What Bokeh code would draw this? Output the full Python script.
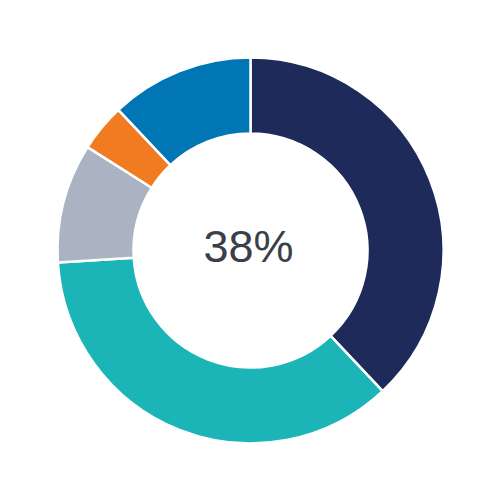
import numpy as np
from bokeh.plotting import figure
from bokeh.models import ColumnDataSource
from bokeh.core.properties import value
from bokeh.embed import file_html
from bokeh.resources import INLINE

categories = ["A", "B", "C", "D", "E"]
shares = [38, 36, 10, 4, 12]
colors = ["#1e2a5a", "#1bb5b7", "#a9b3c1", "#f07b21", "#0176b4"]
center_label = "38%"

fracs = np.array(shares, dtype=float) / sum(shares)
cum = np.concatenate([[0], np.cumsum(fracs)])
start = np.pi / 2 - cum[:-1] * 2 * np.pi
end = np.pi / 2 - cum[1:] * 2 * np.pi

src = ColumnDataSource(dict(cat=categories, start=start, end=end, color=colors))

p = figure(width=484, height=484, x_range=(-250, 234), y_range=(-234, 250),
           output_backend="svg", toolbar_location=None, min_border=0)
p.axis.visible = False
p.grid.visible = False
p.outline_line_color = None
p.background_fill_color = "white"

p.annular_wedge(x=0, y=0, inner_radius=117, outer_radius=193,
                start_angle="start", end_angle="end", direction="clock",
                fill_color="color", line_color="white", line_width=2.5, source=src)

p.text(x=[-2], y=[4], text=[center_label], text_align="center",
       text_baseline="middle", text_font=value("Liberation Sans"),
       text_font_size="45px", text_color="#3b3f48")

open("out.html", "w").write(file_html(p, INLINE))
